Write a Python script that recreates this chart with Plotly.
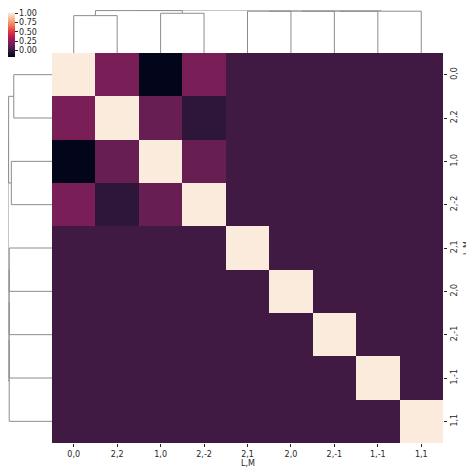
import plotly.graph_objects as go

# order of the rows / columns after clustering
labels = ["0,0", "2,2", "1,0", "2,-2", "2,1", "2,0", "2,-1", "1,-1", "1,1"]

# correlation values (symmetric)
corr = [
    [1.00, 0.19, -0.17, 0.19, 0.03, 0.03, 0.03, 0.03, 0.03],
    [0.19, 1.00, 0.14, -0.03, 0.03, 0.03, 0.03, 0.03, 0.03],
    [-0.17, 0.14, 1.00, 0.14, 0.03, 0.03, 0.03, 0.03, 0.03],
    [0.19, -0.03, 0.14, 1.00, 0.03, 0.03, 0.03, 0.03, 0.03],
    [0.03, 0.03, 0.03, 0.03, 1.00, 0.03, 0.03, 0.03, 0.03],
    [0.03, 0.03, 0.03, 0.03, 0.03, 1.00, 0.03, 0.03, 0.03],
    [0.03, 0.03, 0.03, 0.03, 0.03, 0.03, 1.00, 0.03, 0.03],
    [0.03, 0.03, 0.03, 0.03, 0.03, 0.03, 0.03, 1.00, 0.03],
    [0.03, 0.03, 0.03, 0.03, 0.03, 0.03, 0.03, 0.03, 1.00],
]

# linkage like scipy: (child a, child b, height); ids >= 9 are earlier merges
merges = [
    (0, 1, 1.26),
    (2, 3, 1.34),
    (4, 5, 1.41),
    (11, 6, 1.41),
    (12, 7, 1.41),
    (13, 8, 1.41),
    (9, 10, 1.43),
    (15, 14, 1.45),
]

cbar_ticks = [0.0, 0.25, 0.5, 0.75, 1.0]
axis_name = "L,M"

rocket = [
    [0.0, "#03051A"],
    [0.143, "#35193E"],
    [0.286, "#701F57"],
    [0.429, "#AD1759"],
    [0.571, "#E13342"],
    [0.714, "#F37651"],
    [0.857, "#F6B48F"],
    [1.0, "#FAEBDD"],
]

W = 474
OFF = 8  # the page body adds an 8px margin around the figure
txt = "#262626"
font = dict(family="DejaVu Sans", size=8, color=txt)


def px(x):
    return max(x - OFF, 0) / W


def py(y):
    return 1 - max(y - OFF, 0) / W


def dendro_lines(merges, n):
    pos = {i: (float(i), 0.0) for i in range(n)}
    xs, hs = [], []
    nid = n
    for a, b, h in merges:
        xa, ha = pos[a]
        xb, hb = pos[b]
        xs += [xa, xa, xb, xb, None]
        hs += [ha, h, h, hb, None]
        pos[nid] = ((xa + xb) / 2, h)
        nid += 1
    return xs, hs


n = len(labels)
dx, dh = dendro_lines(merges, n)
idx = list(range(n))

fig = go.Figure()

fig.add_trace(go.Heatmap(
    z=corr, x=idx, y=idx,
    colorscale=rocket,
    zmin=min(min(r) for r in corr), zmax=1.0,
    xaxis="x", yaxis="y",
    colorbar=dict(
        x=px(5), xanchor="left", y=py(13), yanchor="top",
        thickness=7, len=44, lenmode="pixels",
        xpad=0, ypad=0, outlinewidth=0,
        tickvals=cbar_ticks, ticktext=["%.2f" % t for t in cbar_ticks],
        ticks="outside", ticklen=3, tickcolor=txt,
        tickfont=font,
    ),
))

# top dendrogram
fig.add_trace(go.Scatter(
    x=dx, y=dh, mode="lines", xaxis="x2", yaxis="y2",
    line=dict(color="#8c8c8c", width=1), hoverinfo="skip", showlegend=False,
))
# left dendrogram
fig.add_trace(go.Scatter(
    x=dh, y=dx, mode="lines", xaxis="x3", yaxis="y3",
    line=dict(color="#8c8c8c", width=1), hoverinfo="skip", showlegend=False,
))

hx = [px(52), px(443)]
hy = [py(443), py(53)]
hmax = max(m[2] for m in merges)

fig.update_layout(
    width=W, height=W,
    margin=dict(l=0, r=0, t=0, b=0, autoexpand=False),
    paper_bgcolor="white", plot_bgcolor="white",
    font=font,
    xaxis=dict(
        domain=hx, range=[-0.5, n - 0.5], automargin=False,
        tickvals=idx, ticktext=labels, ticks="outside", ticklen=3,
        tickcolor=txt, tickfont=font, showgrid=False, zeroline=False,
    ),
    yaxis=dict(
        domain=hy, range=[n - 0.5, -0.5], side="right", automargin=False,
        tickvals=idx, ticktext=labels, ticks="outside", ticklen=3,
        tickangle=-90,
        tickcolor=txt, tickfont=font, showgrid=False, zeroline=False,
    ),
    xaxis2=dict(
        domain=hx, range=[-0.5, n - 0.5], anchor="y2",
        visible=False,
    ),
    yaxis2=dict(
        domain=[py(53), py(10)], range=[0, hmax], anchor="x2",
        visible=False,
    ),
    xaxis3=dict(
        domain=[px(7), px(52)], range=[hmax, 0], anchor="y3",
        visible=False,
    ),
    yaxis3=dict(
        domain=hy, range=[n - 0.5, -0.5], anchor="x3",
        visible=False,
    ),
    annotations=[
        dict(text=axis_name, xref="paper", yref="paper",
             x=(hx[0] + hx[1]) / 2, y=py(463), showarrow=False,
             xanchor="center", yanchor="middle", font=font),
        dict(text=axis_name, xref="paper", yref="paper",
             x=px(467), y=(hy[0] + hy[1]) / 2, showarrow=False,
             textangle=-90, xanchor="center", yanchor="middle", font=font),
    ],
)

fig.write_html("out.html")
